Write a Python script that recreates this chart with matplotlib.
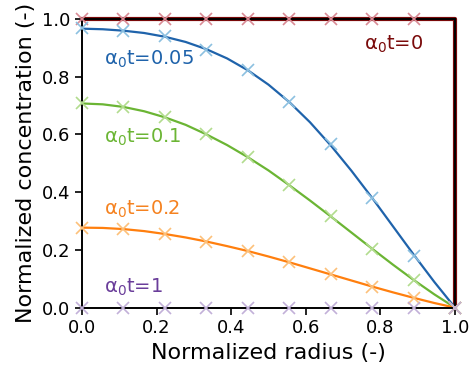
import matplotlib
matplotlib.use("Agg")
import matplotlib.pyplot as plt

# radius grid for the solid curves and for the x markers
r_line = [k / 18 for k in range(19)]
r_pts = [k / 9 for k in range(10)]

c005_line = [0.966, 0.964, 0.959, 0.951, 0.938, 0.920, 0.895, 0.863, 0.822, 0.772,
             0.712, 0.642, 0.562, 0.474, 0.380, 0.282, 0.184, 0.089, 0.0]
c01_line = [0.707, 0.704, 0.695, 0.680, 0.659, 0.633, 0.600, 0.563, 0.521, 0.475,
            0.424, 0.371, 0.316, 0.260, 0.204, 0.149, 0.096, 0.046, 0.0]
c02_line = [0.277, 0.276, 0.272, 0.265, 0.255, 0.243, 0.229, 0.213, 0.196, 0.177,
            0.157, 0.136, 0.115, 0.094, 0.073, 0.053, 0.034, 0.016, 0.0]

c005_pts = [0.968, 0.959, 0.939, 0.893, 0.823, 0.713, 0.566, 0.379, 0.179, 0.0]
c01_pts = [0.707, 0.695, 0.659, 0.600, 0.521, 0.424, 0.316, 0.204, 0.096, 0.0]
c02_pts = [0.277, 0.272, 0.255, 0.229, 0.196, 0.157, 0.115, 0.073, 0.034, 0.0]
c0_pts = [1, 1, 1, 1, 1, 1, 1, 1, 1, 0]
c1_pts = [0] * 10

r0_line = [0.0, 1.0, 1.0]
c0_line = [1.0, 1.0, 0.0]

fig = plt.figure(figsize=(4.74, 3.77), dpi=100)
ax = fig.add_axes([0.173, 0.184, 0.787, 0.766])

ms = 9
ax.plot(r0_line, c0_line, color="#7a0a0a", lw=3, zorder=1, clip_on=False)
ax.plot(r_line, c005_line, color="#1f63ab", lw=1.6, zorder=2)
ax.plot(r_line, c01_line, color="#6bb534", lw=1.6, zorder=2)
ax.plot(r_line, c02_line, color="#ff7f0e", lw=1.6, zorder=2)

ax.plot(r_pts, c0_pts, "x", color="#d98a95", ms=ms, mew=1.2, zorder=4, clip_on=False)
ax.plot(r_pts, c005_pts, "x", color="#8cc0e0", ms=ms, mew=1.2, zorder=4, clip_on=False)
ax.plot(r_pts, c01_pts, "x", color="#b2dc8e", ms=ms, mew=1.2, zorder=4, clip_on=False)
ax.plot(r_pts, c02_pts, "x", color="#fcc07a", ms=ms, mew=1.2, zorder=4, clip_on=False)
ax.plot(r_pts, c1_pts, "x", color="#c2b0d8", ms=ms, mew=1.2, zorder=4, clip_on=False)

fs = 14
lab = r"$\mathregular{\alpha_0}$t="
ax.text(0.059, 0.86, lab + "0.05", color="#1f63ab", fontsize=fs, va="center")
ax.text(0.059, 0.59, lab + "0.1", color="#6bb534", fontsize=fs, va="center")
ax.text(0.059, 0.34, lab + "0.2", color="#f58220", fontsize=fs, va="center")
ax.text(0.059, 0.07, lab + "1", color="#6a3d9a", fontsize=fs, va="center")
ax.text(0.756, 0.91, lab + "0", color="#7a0a0a", fontsize=fs, va="center")

ax.set_xlim(0, 1)
ax.set_ylim(0, 1)
ax.set_xticks([0, 0.2, 0.4, 0.6, 0.8, 1.0])
ax.set_yticks([0, 0.2, 0.4, 0.6, 0.8, 1.0])
ax.tick_params(labelsize=13, length=5, width=1.2)
for s in ax.spines.values():
    s.set_linewidth(1.4)
    s.set_zorder(3)
ax.set_xlabel("Normalized radius (-)", fontsize=16)
ax.set_ylabel("Normalized concentration (-)", fontsize=16)

fig.savefig("out.png", dpi=100)
